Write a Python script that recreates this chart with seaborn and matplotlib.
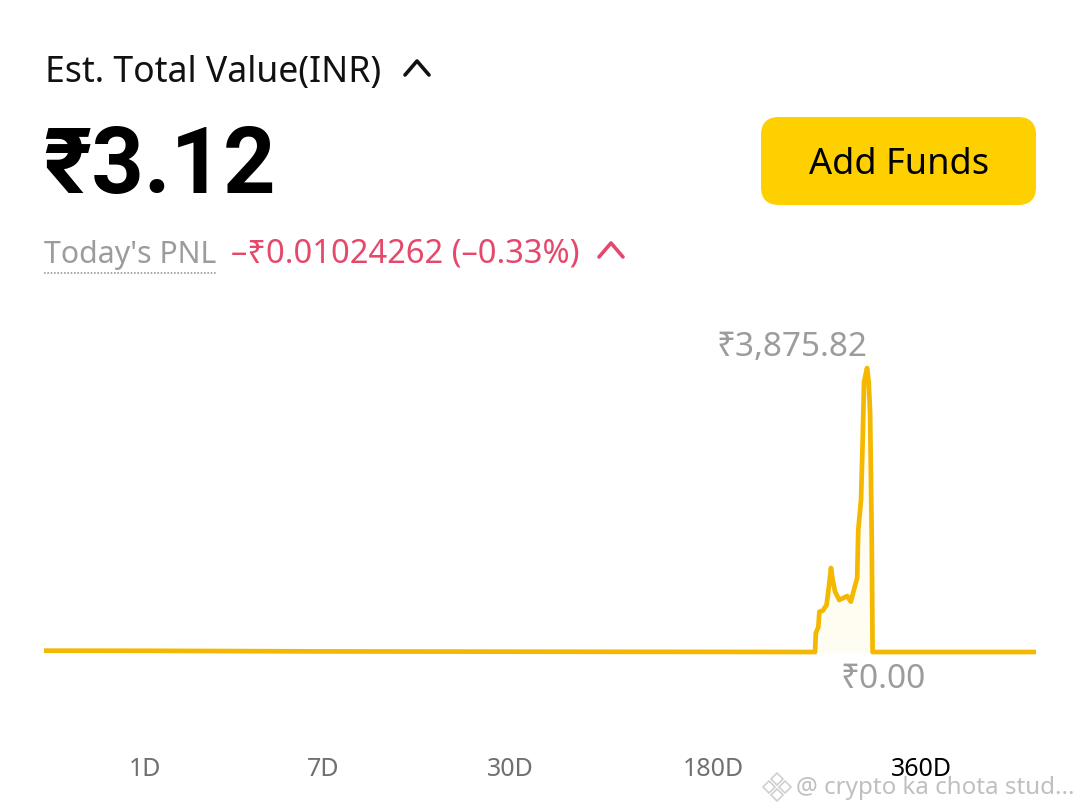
import matplotlib
matplotlib.use("Agg")
import matplotlib.pyplot as plt
from matplotlib.lines import Line2D
from matplotlib.patches import FancyBboxPatch, Polygon
from matplotlib.transforms import IdentityTransform
import pandas as pd
import seaborn as sns

# values
days = [0, 40, 100, 180, 279.8, 280.1, 281.0, 281.4, 282.6, 284.0, 285.0, 285.6, 286.2,
        287.1, 288.6, 290.1, 291.5, 292.8, 293.9, 295.1, 295.5, 296.5, 297.1, 297.6,
        298.7, 299.3, 299.8, 300.4, 300.7, 320, 360]
value = [18, 16, 8, 4, 0, 259, 341, 550, 564, 642, 942, 1147, 983,
         823, 710, 737, 764, 687, 846, 1010, 1665, 2075, 2894, 3686,
         3875.82, 3672, 3262, 1529, 0, 0, 0]
range_labels = ["1D", "7D", "30D", "180D", "360D"]
range_colors = ["#707070", "#707070", "#707070", "#707070", "#000000"]
range_x = [145, 323, 510, 713, 921]

W, H = 1080, 810
GREY = "#9c9c9c"
RED = "#e5486a"
YELLOW = "#f5b800"

sns.set_theme(style="white")
plt.rcParams["font.family"] = ["Noto Sans", "DejaVu Sans"]

df = pd.DataFrame({"day": days, "value": value})

fig = plt.figure(figsize=(W / 100, H / 100), dpi=100, facecolor="white")


def px(x, y):
    return x / W, 1 - y / H


def label(x, y, s, size, color, ha="left", **kw):
    fig.text(*px(x, y), s, fontsize=size, color=color, ha=ha, va="center", **kw)


def chevron(x, y, color, lw=2.6):
    xs = [x - 12, x, x + 12]
    ys = [y + 12, y - 2, y + 12]
    pts = [px(a, b) for a, b in zip(xs, ys)]
    fig.add_artist(Line2D([p[0] for p in pts], [p[1] for p in pts], color=color, lw=lw,
                          transform=fig.transFigure))


# chart area, 0 sits at pixel 652 and the peak at pixel 368
top, bottom = 300, 700
scale = 3875.82 / (652 - 368)
ax = fig.add_axes([44 / W, 1 - bottom / H, 992 / W, (bottom - top) / H])
ax.fill_between(df["day"], df["value"], color="#fff6cc", alpha=0.25, lw=0)
sns.lineplot(data=df, x="day", y="value", ax=ax, color=YELLOW, lw=3.4, solid_joinstyle="round")
ax.set_xlim(0, 360)
ax.set_ylim((652 - bottom) * scale, (652 - top) * scale)
ax.axis("off")

# header
label(45, 73, "Est. Total Value(INR)", 25.6, "#111111")
chevron(417, 63, "#111111")
label(43, 167, "₹3.12", 66, "#000000", fontweight="bold", family=["Roboto", "DejaVu Sans"])
label(44, 255, "Today's PNL", 21.8, GREY)
fig.add_artist(Line2D([44 / W, 217 / W], [1 - 273 / H] * 2, color=GREY, lw=1.2, ls=(0, (1, 1))))
label(231, 254, "–₹0.01024262 (–0.33%)", 23.5, RED)
chevron(611, 245, RED)

# button, drawn in pixels so the corners stay round
fig.add_artist(FancyBboxPatch((761, H - 205), 275, 88, transform=IdentityTransform(),
                              boxstyle="round,pad=0,rounding_size=18",
                              facecolor="#fed000", edgecolor="none"))
label(899, 165, "Add Funds", 26, "#000000", ha="center")

# min and max labels
label(792, 347, "₹3,875.82", 24, GREY, ha="center")
label(883, 680, "₹0.00", 24, GREY, ha="center")

# range tabs
for x, s, c in zip(range_x, range_labels, range_colors):
    label(x, 770, s, 18, c, ha="center")

# watermark
cx, cy = 777, 787
for dx, dy in [(0, -8), (-8, 0), (8, 0), (0, 8)]:
    pts = [px(cx + dx + a, cy + dy + b) for a, b in [(0, -6), (6, 0), (0, 6), (-6, 0)]]
    fig.add_artist(Polygon(pts, closed=True, transform=fig.transFigure, fill=False,
                           edgecolor="#cfcfcf", lw=1.2))
label(796, 788, "@ crypto ka chota stud...", 17.4, "#b5b5b5", alpha=0.85)

fig.savefig("out.png", dpi=100)
